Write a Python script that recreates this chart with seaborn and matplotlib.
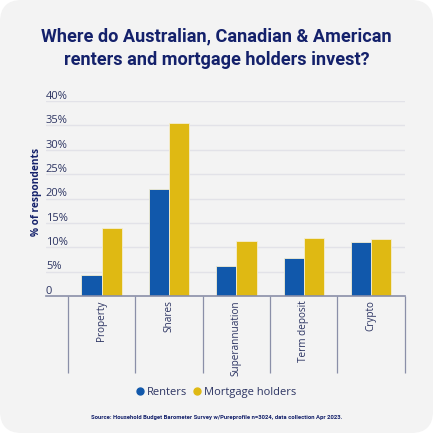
import pandas as pd
import seaborn as sns
import matplotlib.pyplot as plt
from matplotlib.patches import FancyBboxPatch
from matplotlib.lines import Line2D

categories = ["Property", "Shares", "Superannuation", "Term deposit", "Crypto"]
renters = [4.4, 21.9, 6.2, 7.7, 11.0]
mortgage_holders = [13.9, 35.5, 11.2, 12.0, 11.7]
series_names = ["Renters", "Mortgage holders"]
y_ticks = [0, 5, 10, 15, 20, 25, 30, 35, 40]
y_tick_labels = ["0", "5%", "10%", "15%", "20%", "25%", "30%", "35%", "40%"]

BLUE = "#1158ab"
YELLOW = "#dfb913"
NAVY = "#14216b"
TICK = "#2d3563"

df = pd.DataFrame({
    "category": categories * 2,
    "value": renters + mortgage_holders,
    "series": [series_names[0]] * len(categories) + [series_names[1]] * len(categories),
})

sns.set_style("white")
plt.rcParams["font.family"] = ["Open Sans", "DejaVu Sans"]

fig = plt.figure(figsize=(4.33, 4.33), dpi=100)
fig.patch.set_facecolor("white")
card = FancyBboxPatch((0, 0), 1, 1, boxstyle="round,pad=0,rounding_size=0.05",
                      transform=fig.transFigure, facecolor="#f3f3f3", edgecolor="none", zorder=-10)
fig.patches.append(card)

ax = fig.add_axes([0.106, 0.3164, 0.829, 0.4503])
ax.set_facecolor("none")
sns.barplot(data=df, x="category", y="value", hue="series", order=categories,
            hue_order=series_names, palette=[BLUE, YELLOW], saturation=1, width=0.6,
            edgecolor="#f4eed2", linewidth=0.6, ax=ax, legend=False, zorder=3)

ax.set_ylim(0, 40)
ax.set_xlim(-0.826, 4.5)
ax.set_yticks(y_ticks)
ax.set_yticklabels([])
ax.tick_params(axis="y", length=0)
for v in y_ticks[1:]:
    ax.axhline(v, color="#e2e2e8", lw=1.0, zorder=1)
for v, lab in zip(y_ticks, y_tick_labels):
    ax.text(-0.826, v + 0.45, lab, ha="left", va="baseline", fontsize=8, color=TICK)

ax.set_xticks(range(len(categories)))
ax.set_xticklabels(categories, rotation=90, va="top", ha="center", fontsize=7.2, color=TICK)
ax.tick_params(axis="x", which="major", bottom=False, length=0, pad=3)
ax.set_xticks([i - 0.5 for i in range(len(categories) + 1)], minor=True)
ax.tick_params(axis="x", which="minor", bottom=True, length=55.5, width=0.9,
               color="#8a8fa8", direction="out")

ax.set_xlabel("")
ax.set_ylabel("")
for s in ["top", "right", "left"]:
    ax.spines[s].set_visible(False)
ax.spines["bottom"].set_color("#8a8fa8")
ax.spines["bottom"].set_linewidth(1.2)
ax.spines["bottom"].set_zorder(4)

fig.text(0.085, 0.557, "% of respondents", rotation=90, ha="center", va="center",
         fontsize=7.3, fontweight="bold", color=NAVY)

fig.text(0.5, 0.917, "Where do Australian, Canadian & American", ha="center", va="center",
         fontsize=13.1, fontweight="bold", color=NAVY, family="Roboto")
fig.text(0.5, 0.861, "renters and mortgage holders invest?", ha="center", va="center",
         fontsize=13.1, fontweight="bold", color=NAVY, family="Roboto")

handles = [Line2D([], [], marker="o", ls="none", color=c, markersize=5) for c in (BLUE, YELLOW)]
fig.legend(handles, series_names, loc="center", bbox_to_anchor=(0.497, 0.093), ncol=2,
           frameon=False, fontsize=8, handletextpad=0.1, columnspacing=0.4,
           labelcolor=TICK, handlelength=1.0)

fig.text(0.5, 0.036, "Source: Household Budget Barometer Survey w/Pureprofile n=3024, data collection Apr 2023.",
         ha="center", va="center", fontsize=4.2, fontweight="bold", color=NAVY, family="Roboto")

fig.savefig("out.png", dpi=100)
